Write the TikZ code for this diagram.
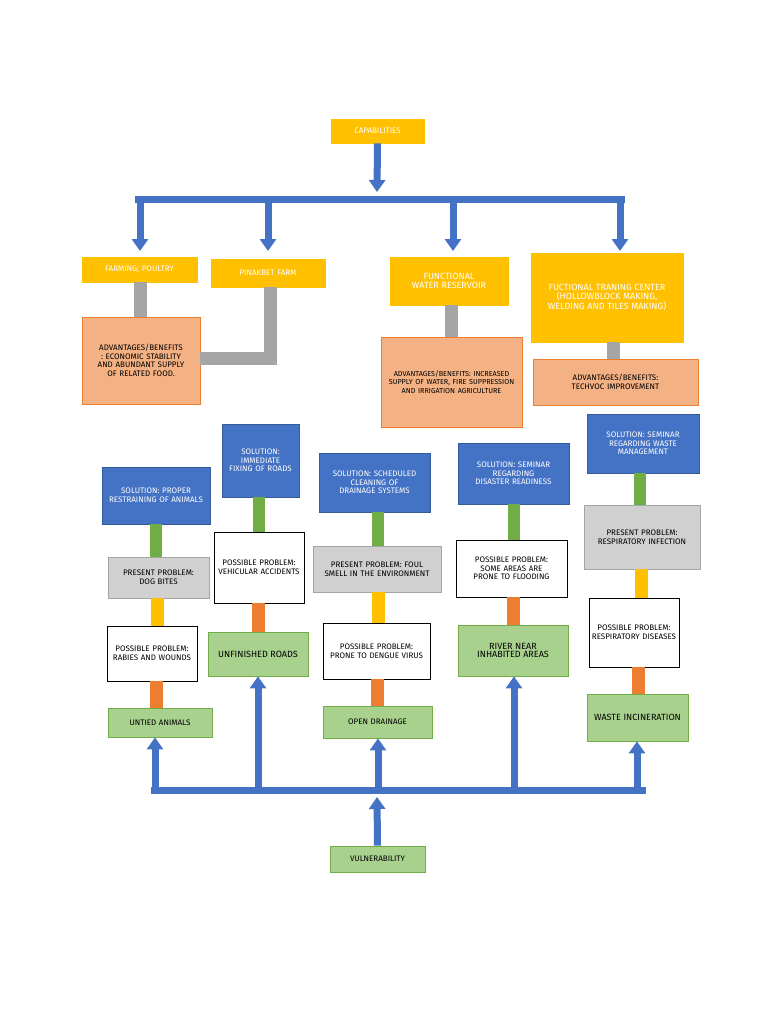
\documentclass[tikz,border=0pt]{standalone}
\usepackage{fontspec}
\setmainfont{Fira Sans}
\usetikzlibrary{arrows.meta}
\definecolor{cyel}{HTML}{FFC000}
\definecolor{cblue}{HTML}{4472C4}
\definecolor{cgreenf}{HTML}{A9D18E}
\definecolor{cgreenb}{HTML}{70AD47}
\definecolor{csalf}{HTML}{F4B183}
\definecolor{csalb}{HTML}{ED7D31}
\definecolor{cgrayf}{HTML}{D0D0D0}
\definecolor{cgrayb}{HTML}{A5A5A5}
\newcommand{\mynohy}{\hyphenpenalty10000\exhyphenpenalty10000\relax}
\tikzset{
 box/.style={draw, line width=0.8pt, align=center, inner sep=1pt, font=\fontsize{8}{8.6}\selectfont\mynohy},
 yel/.style={box, fill=cyel, draw=cyel, text=white},
 blu/.style={box, fill=cblue, draw=cblue!80!black, text=white},
 grn/.style={box, fill=cgreenf, draw=cgreenb, text=black},
 sal/.style={box, fill=csalf, draw=csalb, text=black},
 gry/.style={box, fill=cgrayf, draw=cgrayb, text=black},
 wht/.style={box, fill=white, draw=black, text=black},
 barr/.style={draw=cblue, line width=7pt},
 arr/.style={draw=cblue, line width=7pt, -{Triangle[width=16pt,length=12pt]}},
 cg/.style={draw=cgrayb, line width=13pt},
 cgr/.style={draw=cgreenb, line width=12pt},
 cy/.style={draw=cyel, line width=13pt},
 co/.style={draw=csalb, line width=13pt},
}
\newcommand{\bx}[7]{\node[#1, minimum width={#4-#3}, minimum height={#6-#5}, text width={#4-#3-4}] (#2) at ({(#3+#4)/2},{(#5+#6)/2}) {#7};}
\begin{document}
\begin{tikzpicture}[x=1pt,y=-1pt]
\useasboundingbox[fill=white] (0,0) rectangle (768,1024);
% top
\bx{yel}{cap}{331}{424}{119}{143}{CAPABILITIES}
\bx{yel}{farm}{82}{197}{257}{282}{FARMING; POULTRY}
\bx{yel}{pina}{211}{325}{259}{287}{PINAKBET FARM}
\bx{yel}{water}{390}{508}{257}{305}{\fontsize{9}{11}\selectfont FUNCTIONAL WATER RESERVOIR}
\bx{yel}{train}{531}{683}{253}{342}{\fontsize{9}{12}\selectfont FUCTIONAL TRANING CENTER (HOLLOWBLOCK MAKING, WELDING AND TILES MAKING)}
\bx{sal}{adv1}{82}{200}{317}{404}{ADVANTAGES/BENEFITS : ECONOMIC STABILITY AND ABUNDANT SUPPLY OF RELATED FOOD.}
\bx{sal}{adv2}{381}{522}{337}{427}{\fontsize{7.2}{8.6}\selectfont ADVANTAGES/BENEFITS: INCREASED SUPPLY OF WATER, FIRE SUPPRESSION AND IRRIGATION AGRICULTURE}
\bx{sal}{adv3}{533}{698}{359}{405}{ADVANTAGES/BENEFITS: TECHVOC IMPROVEMENT}
\coordinate (tbl) at (135,200);
\coordinate (tbr) at (625,200);
\draw[arr] (cap.south) -- (377,192);
\draw[barr] (tbl) -- (tbr);
\foreach \x in {140,268,453,620}{
 \draw[arr] (\x,197) -- (\x,251);}
\draw[cg] (farm.south -| 140,0) -- (adv1.north -| 140,0);
\draw[cg] (water.south -| 451,0) -- (adv2.north -| 451,0);
\draw[cg] (train.south -| 613,0) -- (adv3.north -| 613,0);
\coordinate (pc) at (270,358);
\draw[cg, line join=miter] (pina.south -| 270,0) -- (pc) -- (pc -| adv1.east);
% bottom
\bx{grn}{vul}{330}{425}{846}{872}{VULNERABILITY}
\draw[arr] (vul.north) -- (377,797);
\draw[barr] (151,790) -- (646,790);
% col1
\bx{blu}{s1}{102}{210}{467}{524}{SOLUTION: PROPER RESTRAINING OF ANIMALS}
\bx{gry}{p1}{108}{209}{557}{598}{PRESENT PROBLEM: DOG BITES}
\bx{wht}{q1}{107}{197}{626}{681}{POSSIBLE PROBLEM: RABIES AND WOUNDS}
\bx{grn}{g1}{108}{212}{708}{737}{UNTIED ANIMALS}
% col2
\bx{blu}{s2}{222}{299}{424}{497}{SOLUTION: IMMEDIATE FIXING OF ROADS}
\bx{wht}{q2}{214}{304}{532}{603}{POSSIBLE PROBLEM: VEHICULAR ACCIDENTS}
\bx{grn}{g2}{208}{308}{632}{676}{\fontsize{9}{11}\selectfont UNFINISHED ROADS}
% col3
\bx{blu}{s3}{319}{430}{453}{512}{SOLUTION: SCHEDULED CLEANING OF DRAINAGE SYSTEMS}
\bx{gry}{p3}{313}{441}{546}{592}{PRESENT PROBLEM: FOUL SMELL IN THE ENVIRONMENT}
\bx{wht}{q3}{323}{430}{623}{679}{POSSIBLE PROBLEM: PRONE TO DENGUE VIRUS}
\bx{grn}{g3}{323}{432}{706}{738}{OPEN DRAINAGE}
% col4
\bx{blu}{s4}{458}{569}{443}{504}{SOLUTION: SEMINAR REGARDING DISASTER READINESS}
\bx{wht}{q4}{456}{567}{540}{597}{POSSIBLE PROBLEM: SOME AREAS ARE PRONE TO FLOODING}
\bx{grn}{g4}{458}{568}{625}{676}{\fontsize{9}{11}\selectfont RIVER NEAR INHABITED AREAS}
% col5
\bx{blu}{s5}{587}{699}{414}{473}{SOLUTION: SEMINAR REGARDING WASTE MANAGEMENT}
\bx{gry}{p5}{584}{700}{505}{569}{PRESENT PROBLEM: RESPIRATORY INFECTION}
\bx{wht}{q5}{589}{679}{598}{667}{POSSIBLE PROBLEM: RESPIRATORY DISEASES}
\bx{grn}{g5}{587}{688}{694}{741}{\fontsize{9}{11}\selectfont WASTE INCINERATION}
% connectors
\draw[cgr] (s1.south -| 156,0) -- (p1.north -| 156,0);
\draw[cy] (p1.south -| 157,0) -- (q1.north -| 157,0);
\draw[co] (q1.south -| 156,0) -- (g1.north -| 156,0);
\draw[cgr] (s2.south -| 259,0) -- (q2.north -| 259,0);
\draw[co] (q2.south -| 258,0) -- (g2.north -| 258,0);
\draw[cgr] (s3.south -| 378,0) -- (p3.north -| 378,0);
\draw[cy] (p3.south -| 378,0) -- (q3.north -| 378,0);
\draw[co] (q3.south -| 377,0) -- (g3.north -| 377,0);
\draw[cgr] (s4.south -| 514,0) -- (q4.north -| 514,0);
\draw[co] (q4.south -| 513,0) -- (g4.north -| 513,0);
\draw[cgr] (s5.south -| 640,0) -- (p5.north -| 640,0);
\draw[cy] (p5.south -| 641,0) -- (q5.north -| 641,0);
\draw[co] (q5.south -| 638,0) -- (g5.north -| 638,0);
% up arrows
\draw[arr] (155,793) -- (g1.south -| 155,0);
\draw[arr] (258,793) -- (g2.south -| 258,0);
\draw[arr] (378,793) -- (g3.south -| 378,0);
\draw[arr] (514,793) -- (g4.south -| 514,0);
\draw[arr] (637,793) -- (g5.south -| 637,0);
\end{tikzpicture}
\end{document}
